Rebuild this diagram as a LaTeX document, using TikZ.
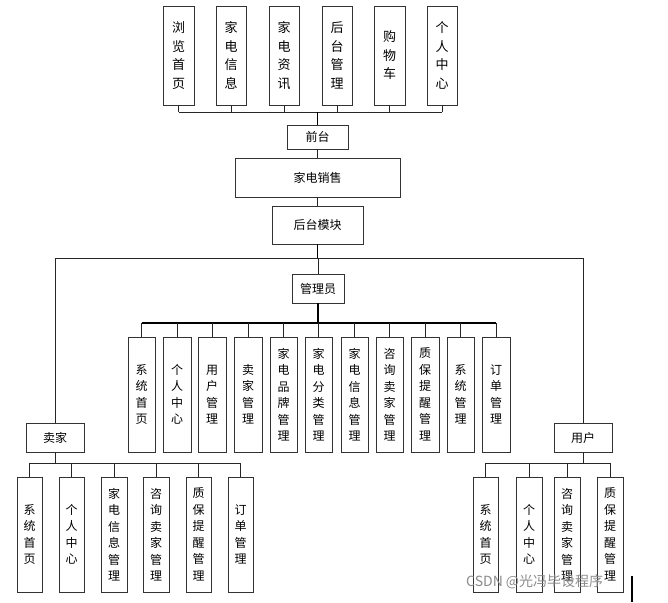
\documentclass[tikz,border=0pt]{standalone}
\usepackage{fontspec}
\setmainfont{Noto Sans CJK SC}
\begin{document}
\begin{tikzpicture}[x=1pt,y=-1pt,
  box/.style={draw=black!80,line width=0.9pt,fill=white,inner sep=0pt,align=center,font=\fontsize{12}{16.5}\selectfont},
  tall/.style={font=\fontsize{13}{18.5}\selectfont},
  ln/.style={draw=black!85,line width=0.8pt},
  tk/.style={draw=black,line width=1.4pt}]
\useasboundingbox (0,0) rectangle (668,602);
\newcommand\mybox[7][]{\node[box,#1,minimum width={#5-#3},minimum height={#6-#4}] (#2) at ({(#3+#5)/2},{(#4+#6)/2}) {#7};}
% top
\mybox[tall]{t1}{163}{6}{194}{105}{浏\\览\\首\\页}
\mybox[tall]{t2}{216}{6}{246}{105}{家\\电\\信\\息}
\mybox[tall]{t3}{269}{6}{299}{105}{家\\电\\资\\讯}
\mybox[tall]{t4}{322}{6}{352}{105}{后\\台\\管\\理}
\mybox[tall]{t5}{374}{6}{405}{105}{购\\物\\车}
\mybox[tall]{t6}{427}{6}{457}{105}{个\\人\\中\\心}
\mybox{qt}{287}{125}{348}{149}{前台}
\mybox{js}{235}{158}{400}{197}{家电销售}
\mybox{ht}{272}{206}{363}{244}{后台模块}
\coordinate (tb) at (318,112);
\foreach \i in {1,...,6}{\draw[ln] (t\i.south) -- (t\i.south |- tb);}
\draw[ln] (t1.south |- tb) -- (t6.south |- tb);
\draw[tk] (qt.north) -- (qt.north |- tb);
\draw[ln] (qt.south) -- (js.north);
\draw[ln] (js.south) -- (ht.north);
% second level
\mybox{gl}{292}{274}{344}{303}{管理员}
\mybox{mj}{26}{423}{84}{452}{卖家}
\mybox{yh}{554}{423}{612}{452}{用户}
\coordinate (hb) at (318,258);
\draw[tk] (ht.south) -- (ht.south |- hb);
\draw[ln] (mj.north) -- (mj.north |- hb) -- (yh.north |- hb) -- (yh.north);
\draw[ln] (gl.north) -- (gl.north |- hb);
% admin children
\mybox{a1}{128}{337}{155}{452}{系\\统\\首\\页}
\mybox{a2}{163}{337}{191}{452}{个\\人\\中\\心}
\mybox{a3}{198}{337}{226}{452}{用\\户\\管\\理}
\mybox{a4}{234}{337}{262}{452}{卖\\家\\管\\理}
\mybox{a5}{270}{337}{297}{452}{家\\电\\品\\牌\\管\\理}
\mybox{a6}{305}{337}{332}{452}{家\\电\\分\\类\\管\\理}
\mybox{a7}{341}{337}{368}{452}{家\\电\\信\\息\\管\\理}
\mybox{a8}{376}{337}{403}{452}{咨\\询\\卖\\家\\管\\理}
\mybox{a9}{411}{337}{439}{452}{质\\保\\提\\醒\\管\\理}
\mybox{a10}{447}{337}{474}{452}{系\\统\\管\\理}
\mybox{a11}{482}{337}{510}{452}{订\\单\\管\\理}
\coordinate (ab) at (318,323);
\draw[tk] (gl.south) -- (gl.south |- ab);
\draw[tk] (a1.north |- ab) -- (a11.north |- ab);
\foreach \i in {1,...,11}{\draw[ln] (a\i.north) -- (a\i.north |- ab);}
% seller children
\mybox{s1}{17}{477}{42}{592}{系\\统\\首\\页}
\mybox{s2}{59}{477}{84}{592}{个\\人\\中\\心}
\mybox{s3}{101}{477}{127}{592}{家\\电\\信\\息\\管\\理}
\mybox{s4}{143}{477}{169}{592}{咨\\询\\卖\\家\\管\\理}
\mybox{s5}{186}{477}{211}{592}{质\\保\\提\\醒\\管\\理}
\mybox{s6}{228}{477}{253}{592}{订\\单\\管\\理}
\coordinate (sb) at (55,463);
\draw[ln] (mj.south) -- (mj.south |- sb);
\draw[ln] (s1.north |- sb) -- (s6.north |- sb);
\foreach \i in {1,...,6}{\draw[ln] (s\i.north) -- (s\i.north |- sb);}
% user children
\mybox{u1}{473}{477}{498}{592}{系\\统\\首\\页}
\mybox{u2}{516}{477}{542}{592}{个\\人\\中\\心}
\mybox{u3}{554}{477}{580}{592}{咨\\询\\卖\\家\\管\\理}
\mybox{u4}{597}{477}{623}{592}{质\\保\\提\\醒\\管\\理}
\coordinate (ub) at (583,463);
\draw[ln] (yh.south) -- (yh.south |- ub);
\draw[ln] (u1.north |- ub) -- (u4.north |- ub);
\foreach \i in {1,...,4}{\draw[ln] (u\i.north) -- (u\i.north |- ub);}
% watermark
\node[text=black!45,font=\fontsize{14}{14}\selectfont,anchor=west,inner sep=0pt] (wm) at (466,582) {CSDN @光冯毕设程序};
\coordinate (m1) at (632,576); \coordinate (m2) at (632,602);
\draw[line width=1.5pt] (m1) -- (m2);
\end{tikzpicture}
\end{document}
